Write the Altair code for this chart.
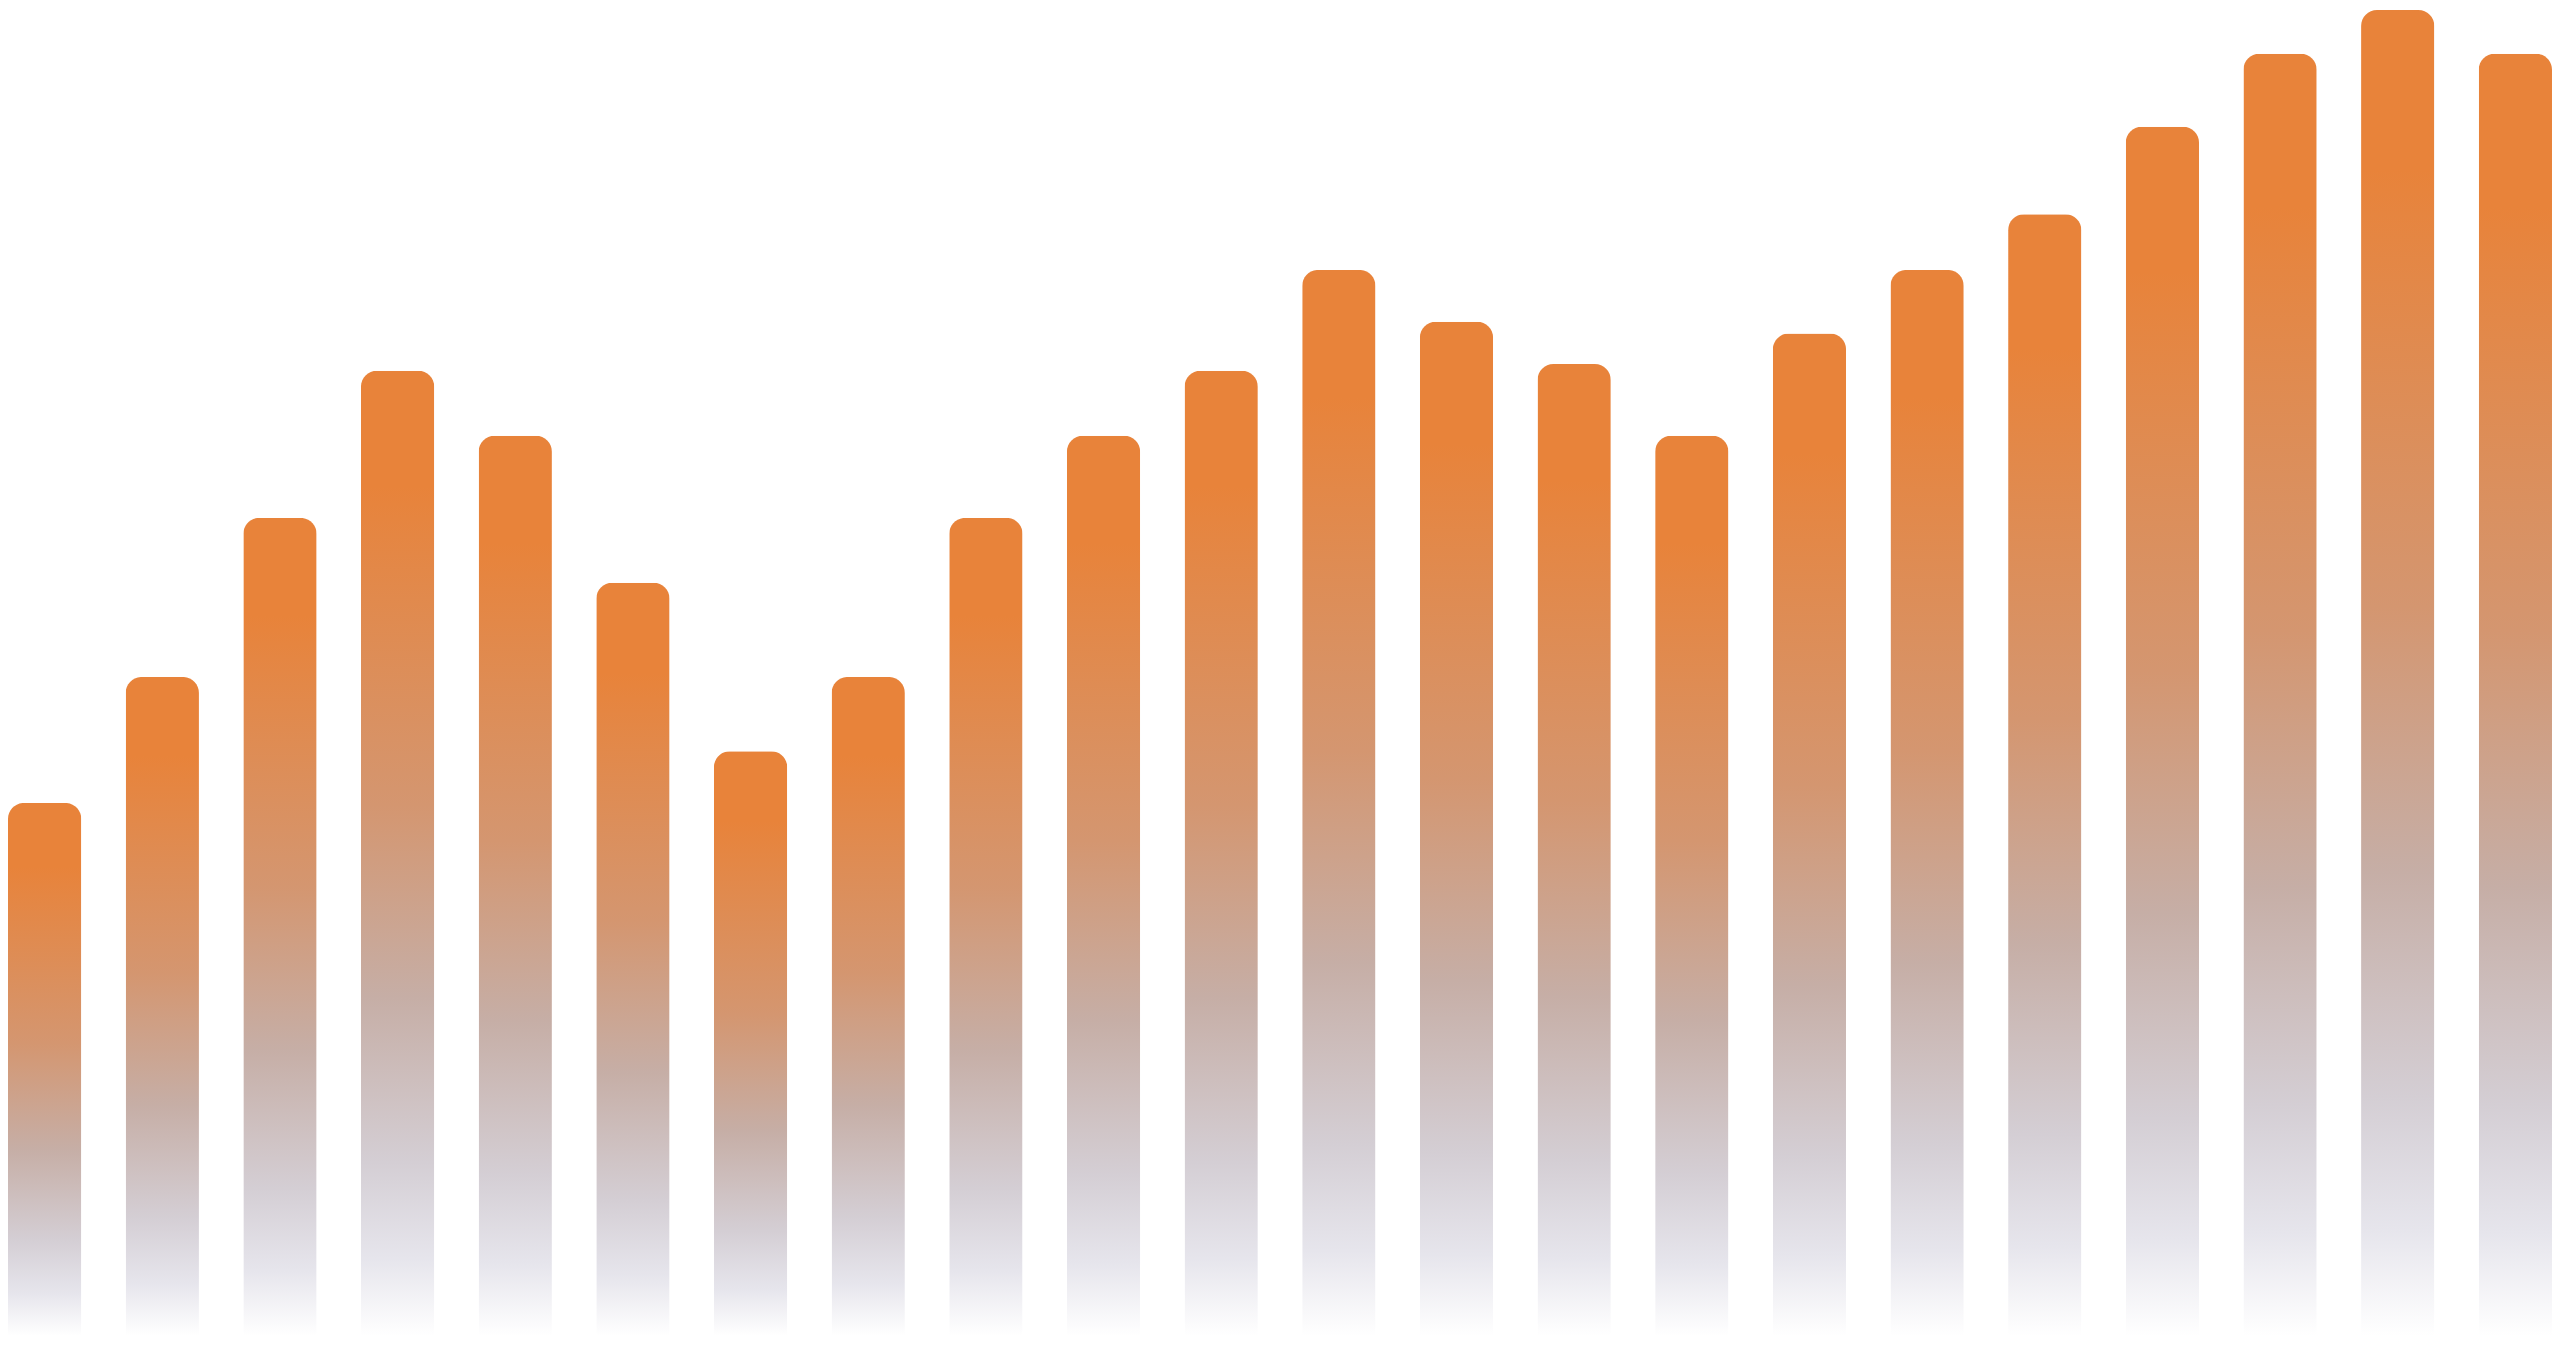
import altair as alt
import pandas as pd

# Bar categories (no visible labels in the reference) and their values
categories = [f"P{i:02d}" for i in range(1, 23)]
values = [40.2, 49.7, 61.7, 72.8, 67.9, 56.8, 44.1, 49.7, 61.7, 67.9, 72.8,
          80.4, 76.5, 73.3, 67.9, 75.6, 80.4, 84.6, 91.2, 96.7, 100.0, 96.7]

df = pd.DataFrame({"cat": categories, "val": values})

gradient = alt.Gradient(
    gradient="linear",
    x1=0, y1=0, x2=0, y2=1,
    stops=[
        alt.GradientStop(color="#E8833A", offset=0.0),
        alt.GradientStop(color="#E8833A", offset=0.12),
        alt.GradientStop(color="#D49670", offset=0.45),
        alt.GradientStop(color="#C6AEA6", offset=0.65),
        alt.GradientStop(color="#D4CED4", offset=0.82),
        alt.GradientStop(color="#E6E5EC", offset=0.92),
        alt.GradientStop(color="#FFFFFF", offset=1.0),
    ],
)

chart = (
    alt.Chart(df, view=alt.ViewBackground(stroke="transparent", strokeWidth=0))
    .mark_bar(color=gradient, cornerRadiusTopLeft=16, cornerRadiusTopRight=16)
    .encode(
        x=alt.X("cat:N", sort=None, axis=None,
                scale=alt.Scale(paddingInner=0.377, paddingOuter=0)),
        y=alt.Y("val:Q", axis=None,
                scale=alt.Scale(domain=[0, 100], nice=False, zero=True)),
    )
    .properties(width=2552, height=1330, padding=0, background="#ffffff")
    .configure_view(strokeWidth=0, stroke="transparent")
)

chart.save("out.html", embed_options={"renderer": "svg", "actions": False})
